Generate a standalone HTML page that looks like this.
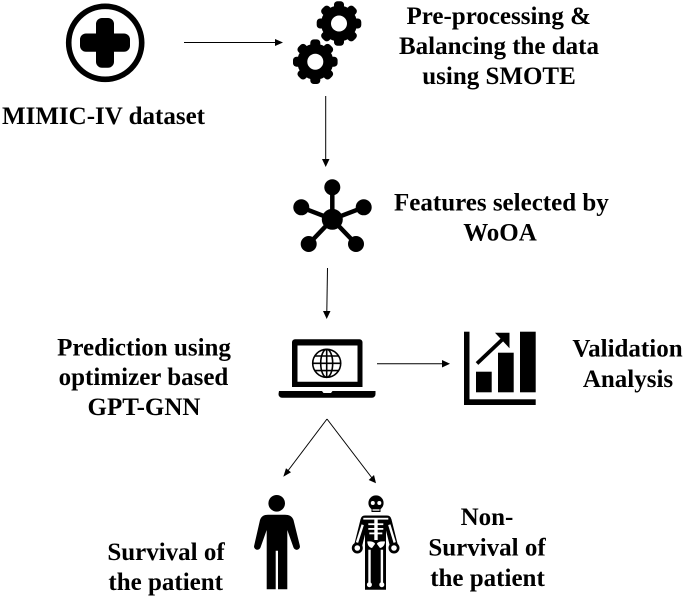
<!DOCTYPE html>
<html><head><meta charset="utf-8"><style>
html,body{margin:0;padding:0;background:#fff}
svg{display:block;filter:blur(0.35px)}
text{font-family:"Liberation Serif",serif;font-weight:bold;font-size:25px;fill:#000;text-anchor:middle}
</style></head><body>
<svg width="685" height="598" viewBox="0 0 685 598" xmlns="http://www.w3.org/2000/svg">
<defs>
<g id="gear"><g fill="#000">
<circle r="18"/>
<rect x="-5" y="-22.300" width="10" height="44.600" rx="3.500"/>
<rect x="-5" y="-22.300" width="10" height="44.600" rx="3.500" transform="rotate(45)"/>
<rect x="-5" y="-22.300" width="10" height="44.600" rx="3.500" transform="rotate(90)"/>
<rect x="-5" y="-22.300" width="10" height="44.600" rx="3.500" transform="rotate(135)"/>
</g><circle r="8" fill="#fff"/></g>
</defs>

<!-- medical icon -->
<circle cx="105.200" cy="42.800" r="36.500" fill="none" stroke="#000" stroke-width="5.600"/>
<path d="M96 24a6 6 0 0 1 6-6h6a6 6 0 0 1 6 6v9.500h10a6 6 0 0 1 6 6v6.200a6 6 0 0 1-6 6h-10v10a6 6 0 0 1-6 6h-6a6 6 0 0 1-6-6v-10h-10a6 6 0 0 1-6-6v-6.200a6 6 0 0 1 6-6h10z" fill="#000"/>

<!-- gears -->
<use href="#gear" transform="translate(339 23.500)"/>
<use href="#gear" transform="translate(315.300 61.700)"/>

<!-- network -->
<g stroke="#000" stroke-width="4.500">
<line x1="332.300" y1="219.300" x2="332.300" y2="187.300"/>
<line x1="332.300" y1="219.300" x2="301.300" y2="207.300"/>
<line x1="332.300" y1="219.300" x2="363.700" y2="207.300"/>
<line x1="332.300" y1="219.300" x2="308.700" y2="244"/>
<line x1="332.300" y1="219.300" x2="356" y2="244"/>
</g>
<g fill="#000">
<circle cx="332.300" cy="219.300" r="10.500"/>
<circle cx="332.300" cy="187.300" r="8"/>
<circle cx="301.300" cy="207.300" r="8"/>
<circle cx="363.700" cy="207.300" r="8"/>
<circle cx="308.700" cy="244" r="8"/>
<circle cx="356" cy="244" r="8"/>
</g>

<!-- laptop -->
<path fill-rule="evenodd" d="M295 339.300h64.500a3 3 0 0 1 3 3v44.700h-70.500v-44.700a3 3 0 0 1 3-3zM297.500 345.500v36.200h60v-36.200z" fill="#000"/>
<path d="M279 391h43l1.500 2h7.500l1.500-2h43v3a3.500 3.500 0 0 1-3.500 3.700h-90a3.500 3.500 0 0 1-3.500-3.700z" fill="#000"/>
<g fill="none" stroke="#000" stroke-width="1.600">
<circle cx="326.700" cy="363.300" r="14"/>
<ellipse cx="326.700" cy="363.300" rx="6" ry="14"/>
<line x1="326.700" y1="349.300" x2="326.700" y2="377.300"/>
<line x1="312.700" y1="363.300" x2="340.700" y2="363.300"/>
<line x1="315" y1="356" x2="338.400" y2="356"/>
<line x1="315" y1="370.600" x2="338.400" y2="370.600"/>
</g>

<!-- chart -->
<g fill="#000">
<rect x="464" y="331.700" width="5.500" height="73.300"/>
<rect x="464" y="399.300" width="71.700" height="5.700"/>
<rect x="476" y="371.700" width="15.700" height="20.600"/>
<rect x="498" y="352.700" width="15.700" height="39.600"/>
<rect x="520" y="331.700" width="15.700" height="60.600"/>
<polygon points="495,332.800 509.500,332.800 509.500,348.300"/>
</g>
<line x1="477" y1="363.500" x2="505" y2="337" stroke="#000" stroke-width="3.800"/>

<!-- person -->
<circle cx="276.700" cy="503.300" r="8.300" fill="#000"/>
<path d="M268 514.700H285C289 514.700 292 516 293.500 520L299.800 545.500A3.300 3.300 0 0 1 293.500 547.500L287.300 530V589.300H278V550.700H275.700V589.300H266.700V530L260.500 547.500A3.300 3.300 0 0 1 254.200 545.500L260 520C261.500 516 264 514.700 268 514.700Z" fill="#000"/>

<!-- skeleton -->
<g fill="#000">
<circle cx="376" cy="503" r="7.600"/>
<rect x="371.500" y="507" width="9" height="5"/>
<path d="M365 515.500H387C389.500 515.500 391 517 391 519L386 530V589.700H365V530L361 519C361 517 362.500 515.500 365 515.500Z"/>
</g>
<g stroke="#000" stroke-width="8" stroke-linecap="round" fill="none">
<line x1="364.500" y1="520" x2="358" y2="546"/>
<line x1="387.500" y1="520" x2="394" y2="546"/>
</g>
<g fill="#000">
<circle cx="357.300" cy="548" r="5.500"/>
<circle cx="394" cy="548" r="5.500"/>
</g>
<g fill="#fff">
<circle cx="372.800" cy="503" r="2"/>
<circle cx="379.300" cy="503" r="2"/>
<rect x="372.500" y="509" width="7" height="2" fill="#aaa"/>
<rect x="363.300" y="517.800" width="25" height="1.800"/>
<rect x="374.300" y="518" width="3.400" height="22"/>
<rect x="368.300" y="523.300" width="15" height="1.800"/>
<rect x="368.300" y="528" width="15" height="1.800"/>
<rect x="369.300" y="532.500" width="13" height="1.800"/>
<path d="M367.300 541.500C371 541 375 542 375 544L372 548C369 547.500 367.500 545 367.300 541.500ZM385 541.500C381 541 377 542 377 544L380 548C383 547.500 384.800 545 385 541.500Z"/>
<rect x="368.300" y="549.700" width="2.400" height="33"/>
<rect x="380.700" y="549.700" width="2.400" height="33"/>
<circle cx="369.400" cy="584.700" r="2.500"/>
<circle cx="381.800" cy="584.700" r="2.500"/>
<circle cx="357.300" cy="548" r="2.800"/>
<circle cx="394" cy="548" r="2.800"/>
</g>
<g stroke="#fff" stroke-width="2.400">
<line x1="362.700" y1="524.700" x2="357" y2="542.500"/>
<line x1="389.300" y1="524.700" x2="394.700" y2="542.500"/>
</g>

<!-- arrows -->
<g stroke="#000" stroke-width="1" fill="none">
<line x1="184" y1="42.500" x2="278" y2="42.500"/>
<line x1="325.700" y1="96" x2="325.700" y2="160"/>
<line x1="327.500" y1="268" x2="326.800" y2="312"/>
<line x1="377" y1="363.700" x2="444" y2="363.700"/>
<line x1="327" y1="419" x2="287" y2="472"/>
<line x1="327" y1="419" x2="372" y2="478"/>
</g>
<g fill="#000">
<polygon points="283,42.500 275,39 275,46"/>
<polygon points="325.700,167 322,159 329.500,159"/>
<polygon points="326.700,319 323,311 330.500,311"/>
<polygon points="450,363.700 442,360 442,367.500"/>
<polygon points="283.300,476.700 286,468.300 291,472.300"/>
<polygon points="376,483.300 368.700,480 374,475"/>
</g>

<!-- labels -->
<text x="103.500" y="124">MIMIC-IV dataset</text>
<text x="498.700" y="24">Pre-processing &amp;</text>
<text x="499" y="54">Balancing the data</text>
<text x="499" y="84">using SMOTE</text>
<text x="501.400" y="210.500">Features selected by</text>
<text x="500" y="240.500">WoOA</text>
<text x="144" y="355.500">Prediction using</text>
<text x="143.500" y="385">optimizer based</text>
<text x="144" y="415">GPT-GNN</text>
<text x="627.500" y="356.500">Validation</text>
<text x="628" y="387">Analysis</text>
<text x="166" y="560">Survival of</text>
<text x="165.700" y="590">the patient</text>
<text x="487" y="525">Non-</text>
<text x="487" y="555.500">Survival of</text>
<text x="487.500" y="586">the patient</text>
</svg>
</body></html>
